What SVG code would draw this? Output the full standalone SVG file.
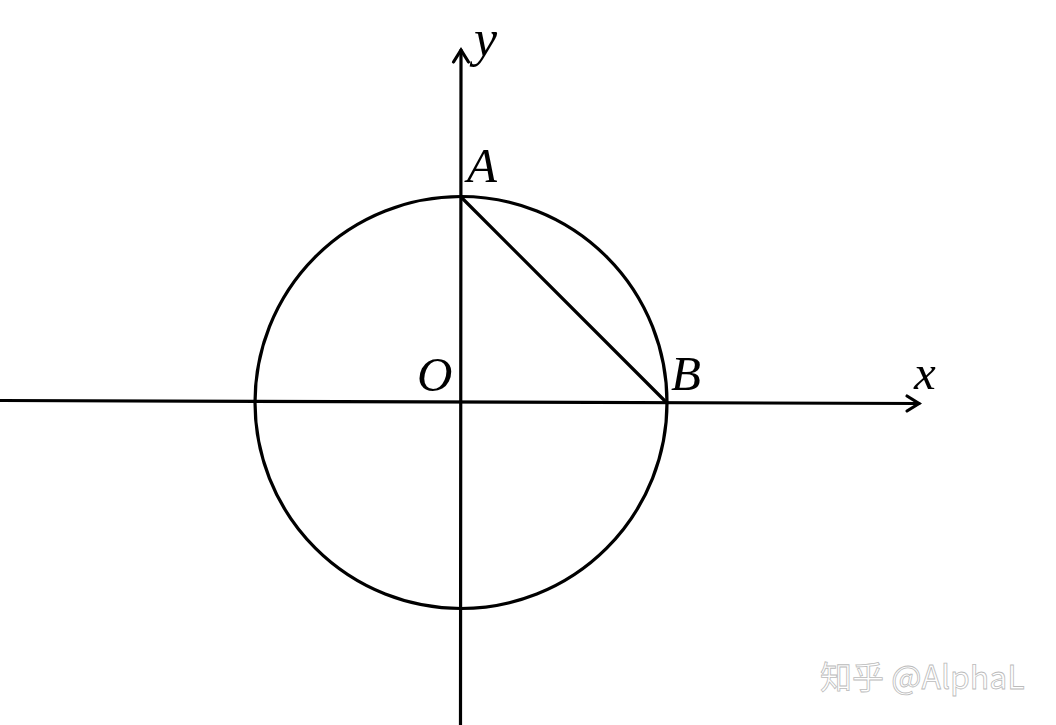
<svg xmlns="http://www.w3.org/2000/svg" width="1056" height="725" viewBox="0 0 1056 725">
<style>
.ln{stroke:#000;stroke-width:3.2;fill:none;stroke-linecap:round}
.lbl{font-family:"Liberation Serif","DejaVu Serif",serif;font-style:italic;font-size:49px;fill:#000}
.wm{font-family:"Noto Sans CJK SC","Noto Sans",sans-serif;font-size:32px;fill:#fff;stroke:#bbb;stroke-width:0.8}
</style>
<rect width="1056" height="725" fill="#fff"/>
<g id="connectors">
<path class="ln" d="M0 400.5 L919 403.5"/>
<path class="ln" d="M907 396 L919 403.5 L907 411"/>
<path class="ln" d="M460.5 725 L461 50"/>
<path class="ln" d="M453.5 62 L461 50 L468.5 62"/>
<path class="ln" d="M461 197 L667 403"/>
</g>
<g id="circle"><circle class="ln" cx="461" cy="402.5" r="206"/></g>
<g id="label-y"><text class="lbl" x="474" y="56" style="font-size:52px">y</text></g>
<g id="label-A"><text class="lbl" x="467" y="182">A</text></g>
<g id="label-O"><text class="lbl" x="417" y="391">O</text></g>
<g id="label-B"><text class="lbl" x="671" y="390">B</text></g>
<g id="label-x"><text class="lbl" x="914" y="389">x</text></g>
<g id="watermark"><text class="wm" x="820" y="689">知乎 @AlphaL</text></g>
</svg>
